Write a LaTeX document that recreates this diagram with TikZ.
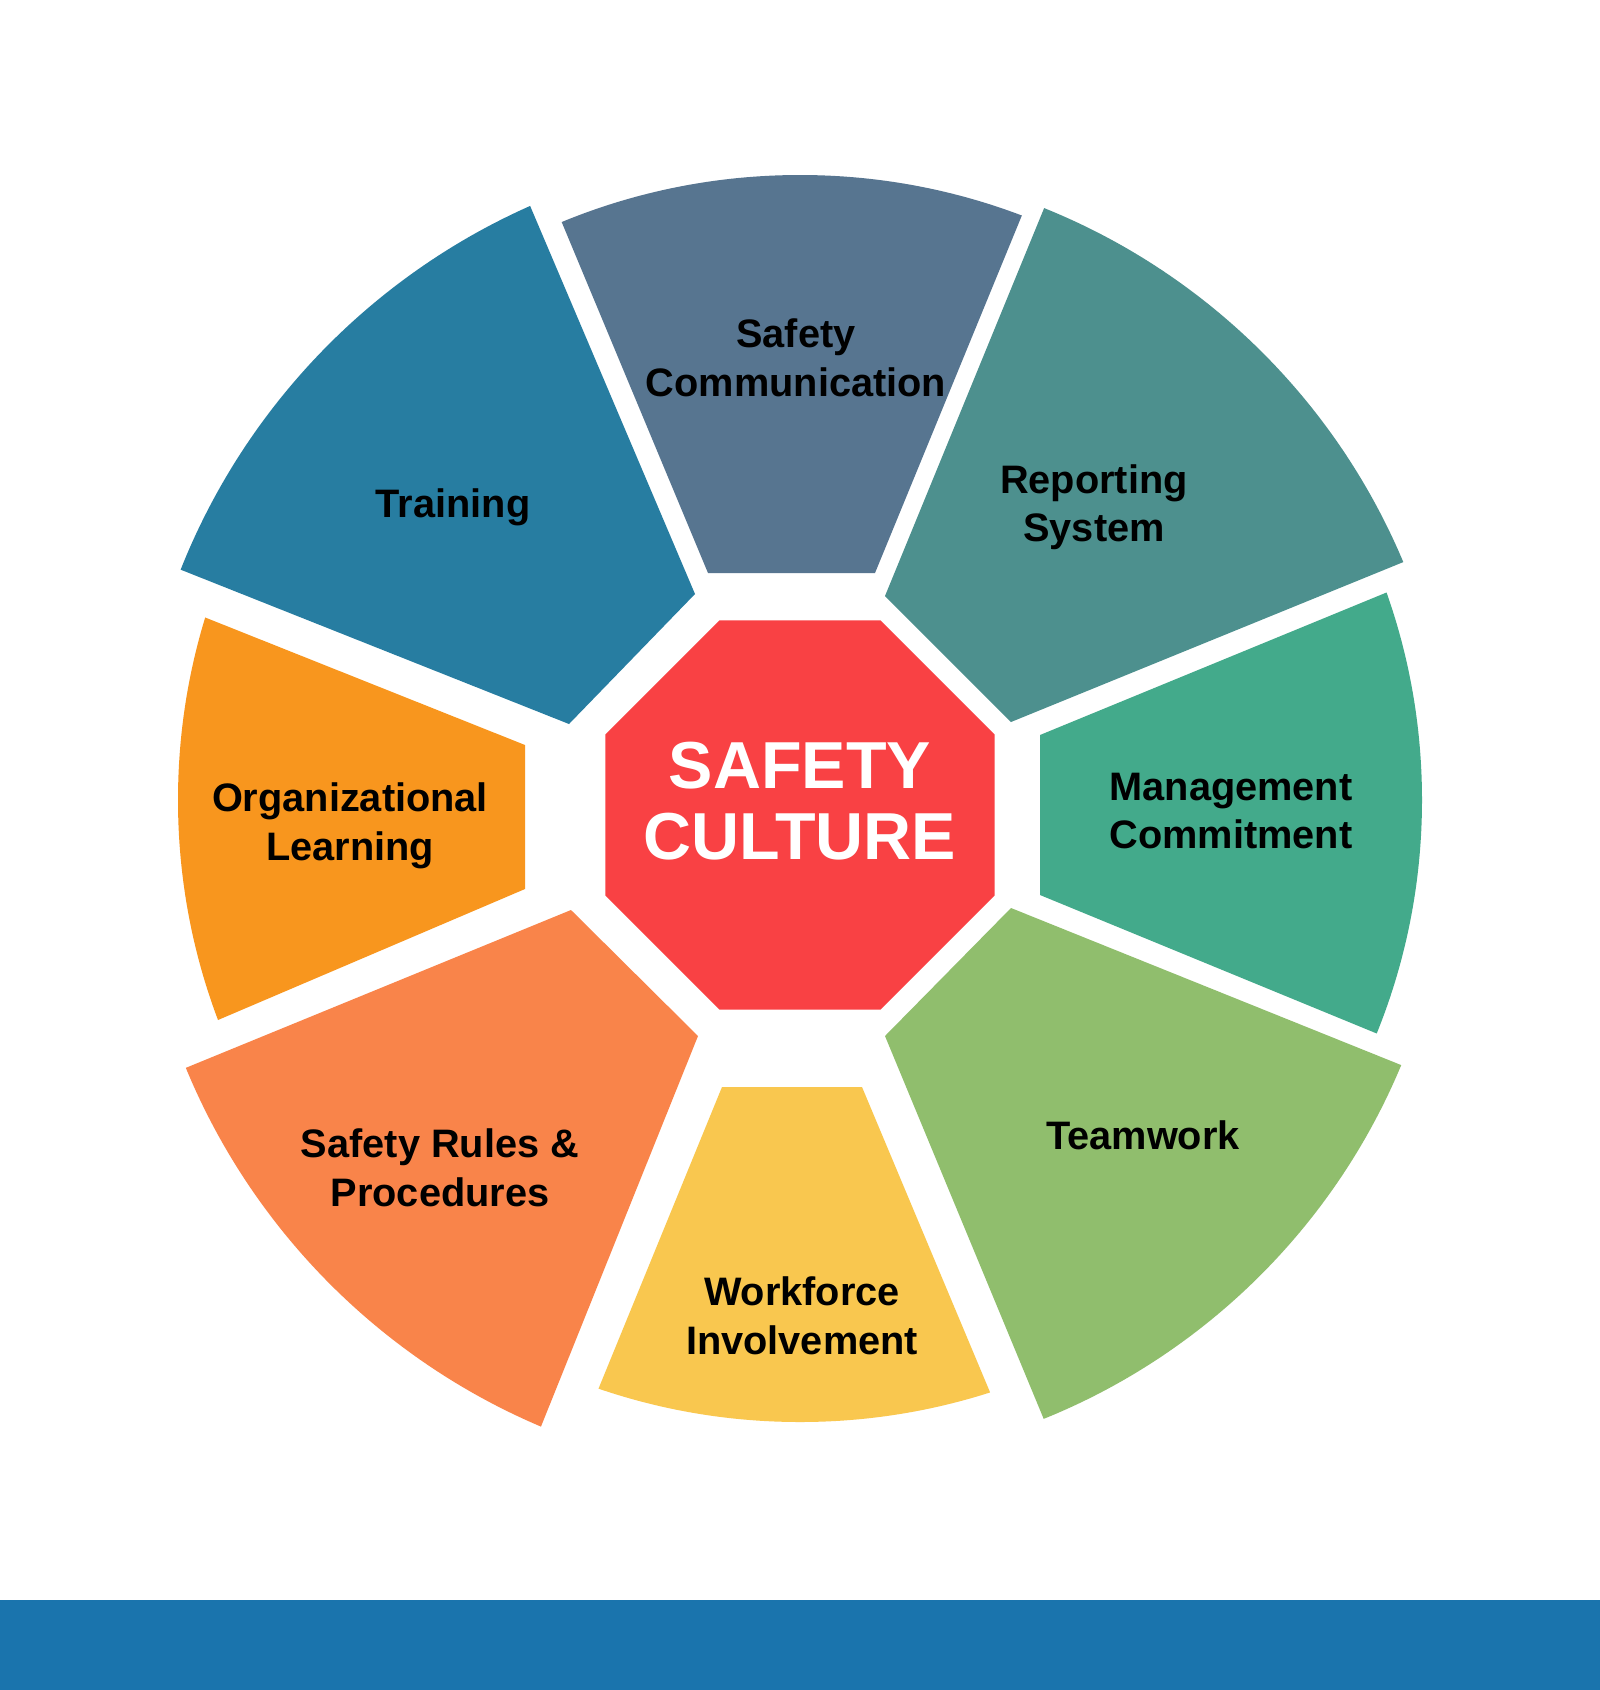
\documentclass[tikz,border=0pt]{standalone}
\usepackage{fontspec}
\setmainfont{Liberation Sans}
\usetikzlibrary{calc,shapes.geometric}

\definecolor{ctrain}{HTML}{277DA1}
\definecolor{ccomm}{HTML}{577590}
\definecolor{creport}{HTML}{4D908E}
\definecolor{cmanage}{HTML}{43AA8B}
\definecolor{cteam}{HTML}{90BE6D}
\definecolor{cwork}{HTML}{F9C74F}
\definecolor{crules}{HTML}{F9844A}
\definecolor{clearn}{HTML}{F8961E}
\definecolor{chub}{HTML}{F94144}
\definecolor{cbar}{HTML}{1A74AD}

\newcommand{\wedgepart}[7]{%
  \begin{scope}
    \clip (#2) circle[radius=#3];
    \fill[#1] ($(#5)!3!(#4)$) -- (#5) -- (#6) -- ($(#6)!3!(#7)$) -- cycle;
  \end{scope}}

\begin{document}
\begin{tikzpicture}[x=0.01cm,y=-0.01cm,
	lbl/.style={font=\bfseries\fontsize{11.3}{13.8}\selectfont,align=center,text=black},
	hubtxt/.style={font=\bfseries\fontsize{18.9}{20.2}\selectfont,align=center,text=white}]
	\useasboundingbox (0,0) rectangle (1600,1690);
	\fill[white] (0,0) rectangle (1600,1690);
	\fill[cbar] (0,1600) rectangle (1600,1690);

	\wedgepart{ctrain}{800,815}{666}{531,208}{695,594}{569,724}{179,569}
	\wedgepart{ccomm}{800,800}{625}{560,218}{708,573}{875,573}{1020,220}
	\wedgepart{creport}{800,815}{654}{1045,206}{885,596}{1011,722}{1401,563}
	\wedgepart{cmanage}{800,800}{622}{1378,596}{1040,735}{1040,895}{1378,1034}
	\wedgepart{cteam}{800,815}{651}{1401,1065}{1011,908}{885,1036}{1045,1422}
	\wedgepart{cwork}{800,800}{622}{987,1385}{862,1087}{722,1087}{600,1385}
	\wedgepart{crules}{800,815}{664}{542,1424}{698,1036}{571,910}{183,1069}
	\wedgepart{clearn}{800,800}{622}{218,1020}{525,889}{525,745}{214,621}

	\node (hub) at (800,815) [regular polygon,regular polygon sides=8,
		fill=chub,inner sep=0pt,minimum size=4.21cm]{};
	\node (hubtext) at (800,801) [hubtxt]{SAFETY\\CULTURE};

	\begin{scope}[every node/.style={lbl}]
	\node (training) at (453,507) {Training};
	\node (comm) at (796,358) {Safety\\Communication};
	\node (report) at (1094,507) {Reporting\\System};
	\node (manage) at (1231,811) {Management\\Commitment};
	\node (team) at (1143,1135) {Teamwork};
	\node (work) at (802,1316) {Workforce\\Involvement};
	\node (rules) at (440,1168) {Safety Rules \&\\Procedures};
	\node (learn) at (350,826) {Organizational\\Learning};
	\end{scope}
\end{tikzpicture}
\end{document}
